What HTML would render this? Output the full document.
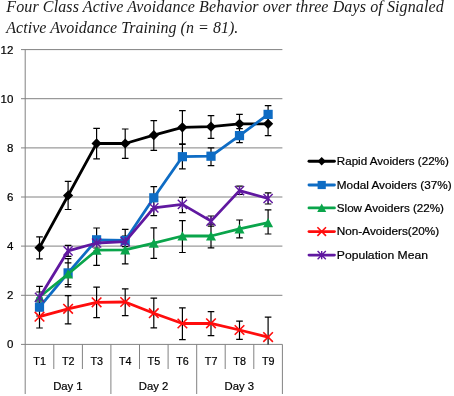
<!DOCTYPE html>
<html><head><meta charset="utf-8"><title>Four Class Active Avoidance Behavior</title>
<style>html,body{margin:0;padding:0;background:#fff}svg{display:block}text{font-family:"Liberation Sans",Arial,sans-serif;fill:#000;stroke:#000;stroke-width:.2px}.t{font-family:"Liberation Serif","Times New Roman",serif;font-style:italic;font-size:16px;fill:#1a1a1a;stroke:none}</style></head><body>
<svg width="454" height="396" viewBox="0 0 454 396">
<rect width="454" height="396" fill="#fff"/>
<text class="t" x="6.3" y="12.3" textLength="437.4" lengthAdjust="spacing">Four Class Active Avoidance Behavior over three Days of Signaled</text>
<text class="t" x="6.3" y="32.8" textLength="232" lengthAdjust="spacing">Active Avoidance Training (n = 81).</text>
<path d="M21 344.4H282.4M21 295.3H282.4M21 246.1H282.4M21 197.0H282.4M21 147.9H282.4M21 98.7H282.4M21 49.6H282.4" stroke="#828282" stroke-width="1" fill="none"/>
<path d="M25.2 49.6V394M53.8 344.4V369M82.4 344.4V369M110.9 344.4V394M139.5 344.4V369M168.1 344.4V369M196.7 344.4V394M225.2 344.4V369M253.8 344.4V369M282.4 344.4V394" stroke="#828282" stroke-width="1" fill="none"/>
<text x="13.3" y="348.3" font-size="11.5" text-anchor="end">0</text>
<text x="13.3" y="299.2" font-size="11.5" text-anchor="end">2</text>
<text x="13.3" y="250.0" font-size="11.5" text-anchor="end">4</text>
<text x="13.3" y="200.9" font-size="11.5" text-anchor="end">6</text>
<text x="13.3" y="151.8" font-size="11.5" text-anchor="end">8</text>
<text x="13.3" y="102.6" font-size="11.5" text-anchor="end">10</text>
<text x="13.3" y="53.5" font-size="11.5" text-anchor="end">12</text>
<text x="39.6" y="364.5" font-size="11.3" text-anchor="middle" textLength="12.6" lengthAdjust="spacingAndGlyphs">T1</text>
<text x="68.2" y="364.5" font-size="11.3" text-anchor="middle" textLength="12.6" lengthAdjust="spacingAndGlyphs">T2</text>
<text x="96.7" y="364.5" font-size="11.3" text-anchor="middle" textLength="12.6" lengthAdjust="spacingAndGlyphs">T3</text>
<text x="125.3" y="364.5" font-size="11.3" text-anchor="middle" textLength="12.6" lengthAdjust="spacingAndGlyphs">T4</text>
<text x="153.9" y="364.5" font-size="11.3" text-anchor="middle" textLength="12.6" lengthAdjust="spacingAndGlyphs">T5</text>
<text x="182.5" y="364.5" font-size="11.3" text-anchor="middle" textLength="12.6" lengthAdjust="spacingAndGlyphs">T6</text>
<text x="211.1" y="364.5" font-size="11.3" text-anchor="middle" textLength="12.6" lengthAdjust="spacingAndGlyphs">T7</text>
<text x="239.6" y="364.5" font-size="11.3" text-anchor="middle" textLength="12.6" lengthAdjust="spacingAndGlyphs">T8</text>
<text x="268.2" y="364.5" font-size="11.3" text-anchor="middle" textLength="12.6" lengthAdjust="spacingAndGlyphs">T9</text>
<text x="67.9" y="390" font-size="11.3" text-anchor="middle" textLength="29.5" lengthAdjust="spacingAndGlyphs">Day 1</text>
<text x="153.6" y="390" font-size="11.3" text-anchor="middle" textLength="29.5" lengthAdjust="spacingAndGlyphs">Day 2</text>
<text x="239.3" y="390" font-size="11.3" text-anchor="middle" textLength="29.5" lengthAdjust="spacingAndGlyphs">Day 3</text>
<defs><clipPath id="pa"><rect x="0" y="0" width="454" height="344.5"/></clipPath></defs>
<g clip-path="url(#pa)">
<path d="M39.5 236.8V258.8M36.2 236.8h6.6M36.2 258.8h6.6M68.1 181.4V209.5M64.8 181.4h6.6M64.8 209.5h6.6M96.6 128.3V158.8M93.3 128.3h6.6M93.3 158.8h6.6M125.2 129.0V158.3M121.9 129.0h6.6M121.9 158.3h6.6M153.8 120.7V150.4M150.5 120.7h6.6M150.5 150.4h6.6M182.4 110.7V143.8M179.1 110.7h6.6M179.1 143.8h6.6M211.0 115.6V138.4M207.7 115.6h6.6M207.7 138.4h6.6M239.5 114.4V133.0M236.2 114.4h6.6M236.2 133.0h6.6M268.1 112.0V135.6M264.8 112.0h6.6M264.8 135.6h6.6M39.5 298.0V316.0M36.2 298.0h6.6M36.2 316.0h6.6M68.1 258.6V286.9M64.8 258.6h6.6M64.8 286.9h6.6M96.6 228.0V251.0M93.3 228.0h6.6M93.3 251.0h6.6M125.2 229.4V251.5M121.9 229.4h6.6M121.9 251.5h6.6M153.8 186.7V208.8M150.5 186.7h6.6M150.5 208.8h6.6M182.4 144.5V168.9M179.1 144.5h6.6M179.1 168.9h6.6M211.0 147.8V165.6M207.7 147.8h6.6M207.7 165.6h6.6M239.5 128.6V142.7M236.2 128.6h6.6M236.2 142.7h6.6M268.1 105.6V123.2M264.8 105.6h6.6M264.8 123.2h6.6M39.5 286.4V307.6M36.2 286.4h6.6M36.2 307.6h6.6M68.1 262.9V284.5M64.8 262.9h6.6M64.8 284.5h6.6M96.6 236.7V265.3M93.3 236.7h6.6M93.3 265.3h6.6M125.2 236.0V263.9M121.9 236.0h6.6M121.9 263.9h6.6M153.8 227.8V258.3M150.5 227.8h6.6M150.5 258.3h6.6M182.4 220.7V252.5M179.1 220.7h6.6M179.1 252.5h6.6M211.0 224.2V247.8M207.7 224.2h6.6M207.7 247.8h6.6M239.5 220.0V237.8M236.2 220.0h6.6M236.2 237.8h6.6M268.1 209.8V234.0M264.8 209.8h6.6M264.8 234.0h6.6M39.5 305.4V328.0M36.2 305.4h6.6M36.2 328.0h6.6M68.1 295.6V323.9M64.8 295.6h6.6M64.8 323.9h6.6M96.6 287.1V317.7M93.3 287.1h6.6M93.3 317.7h6.6M125.2 288.9V315.6M121.9 288.9h6.6M121.9 315.6h6.6M153.8 298.2V327.8M150.5 298.2h6.6M150.5 327.8h6.6M182.4 307.8V339.6M179.1 307.8h6.6M179.1 339.6h6.6M211.0 311.6V335.6M207.7 311.6h6.6M207.7 335.6h6.6M239.5 321.1V339.3M236.2 321.1h6.6M236.2 339.3h6.6M268.1 317.1V357.0M264.8 317.1h6.6M264.8 357.0h6.6M39.5 292.0V302.0M36.2 292.0h6.6M36.2 302.0h6.6M68.1 245.4V256.3M64.8 245.4h6.6M64.8 256.3h6.6M96.6 238.0V248.0M93.3 238.0h6.6M93.3 248.0h6.6M125.2 236.6V246.6M121.9 236.6h6.6M121.9 246.6h6.6M153.8 200.8V215.6M150.5 200.8h6.6M150.5 215.6h6.6M182.4 197.3V212.7M179.1 197.3h6.6M179.1 212.7h6.6M211.0 216.0V226.2M207.7 216.0h6.6M207.7 226.2h6.6M239.5 186.2V194.5M236.2 186.2h6.6M236.2 194.5h6.6M268.1 192.8V204.0M264.8 192.8h6.6M264.8 204.0h6.6" stroke="#000" stroke-width="1.2" fill="none"/>
<polyline points="39.5,247.7 68.1,195.5 96.6,143.4 125.2,143.5 153.8,135.2 182.4,127.3 211.0,126.7 239.5,123.8 268.1,123.8" stroke="#000000" stroke-width="2.8" fill="none" stroke-linejoin="round" stroke-linecap="round"/>
<path d="M39.5 242.6L44.6 247.7L39.5 252.8L34.4 247.7Z" fill="#000000"/>
<path d="M68.1 190.4L73.2 195.5L68.1 200.6L63.0 195.5Z" fill="#000000"/>
<path d="M96.6 138.3L101.7 143.4L96.6 148.5L91.5 143.4Z" fill="#000000"/>
<path d="M125.2 138.4L130.3 143.5L125.2 148.6L120.1 143.5Z" fill="#000000"/>
<path d="M153.8 130.1L158.9 135.2L153.8 140.3L148.7 135.2Z" fill="#000000"/>
<path d="M182.4 122.2L187.5 127.3L182.4 132.4L177.3 127.3Z" fill="#000000"/>
<path d="M211.0 121.6L216.1 126.7L211.0 131.8L205.9 126.7Z" fill="#000000"/>
<path d="M239.5 118.7L244.6 123.8L239.5 128.9L234.4 123.8Z" fill="#000000"/>
<path d="M268.1 118.7L273.2 123.8L268.1 128.9L263.0 123.8Z" fill="#000000"/>
<polyline points="39.5,307.2 68.1,272.9 96.6,239.8 125.2,240.5 153.8,197.8 182.4,156.7 211.0,156.2 239.5,135.6 268.1,114.4" stroke="#0E6CC4" stroke-width="2.8" fill="none" stroke-linejoin="round" stroke-linecap="round"/>
<rect x="34.9" y="302.6" width="9.2" height="9.2" fill="#0E6CC4"/>
<rect x="63.5" y="268.3" width="9.2" height="9.2" fill="#0E6CC4"/>
<rect x="92.0" y="235.2" width="9.2" height="9.2" fill="#0E6CC4"/>
<rect x="120.6" y="235.9" width="9.2" height="9.2" fill="#0E6CC4"/>
<rect x="149.2" y="193.2" width="9.2" height="9.2" fill="#0E6CC4"/>
<rect x="177.8" y="152.1" width="9.2" height="9.2" fill="#0E6CC4"/>
<rect x="206.4" y="151.6" width="9.2" height="9.2" fill="#0E6CC4"/>
<rect x="234.9" y="131.0" width="9.2" height="9.2" fill="#0E6CC4"/>
<rect x="263.5" y="109.8" width="9.2" height="9.2" fill="#0E6CC4"/>
<polyline points="39.5,297.0 68.1,274.0 96.6,250.2 125.2,249.8 153.8,243.2 182.4,236.0 211.0,236.0 239.5,228.9 268.1,222.7" stroke="#0AA54B" stroke-width="2.8" fill="none" stroke-linejoin="round" stroke-linecap="round"/>
<path d="M39.5 292.2L44.5 301.6L34.5 301.6Z" fill="#0AA54B"/>
<path d="M68.1 269.2L73.1 278.6L63.1 278.6Z" fill="#0AA54B"/>
<path d="M96.6 245.4L101.6 254.8L91.6 254.8Z" fill="#0AA54B"/>
<path d="M125.2 245.0L130.2 254.4L120.2 254.4Z" fill="#0AA54B"/>
<path d="M153.8 238.4L158.8 247.8L148.8 247.8Z" fill="#0AA54B"/>
<path d="M182.4 231.2L187.4 240.6L177.4 240.6Z" fill="#0AA54B"/>
<path d="M211.0 231.2L216.0 240.6L206.0 240.6Z" fill="#0AA54B"/>
<path d="M239.5 224.1L244.5 233.5L234.5 233.5Z" fill="#0AA54B"/>
<path d="M268.1 217.9L273.1 227.3L263.1 227.3Z" fill="#0AA54B"/>
<polyline points="39.5,316.7 68.1,308.8 96.6,302.3 125.2,302.0 153.8,313.2 182.4,323.5 211.0,323.3 239.5,330.0 268.1,337.1" stroke="#FF0D0D" stroke-width="2.8" fill="none" stroke-linejoin="round" stroke-linecap="round"/>
<path d="M34.7 311.9L44.3 321.5M44.3 311.9L34.7 321.5" stroke="#FF0D0D" stroke-width="1.6" fill="none"/>
<path d="M63.3 304.0L72.9 313.6M72.9 304.0L63.3 313.6" stroke="#FF0D0D" stroke-width="1.6" fill="none"/>
<path d="M91.8 297.5L101.4 307.1M101.4 297.5L91.8 307.1" stroke="#FF0D0D" stroke-width="1.6" fill="none"/>
<path d="M120.4 297.2L130.0 306.8M130.0 297.2L120.4 306.8" stroke="#FF0D0D" stroke-width="1.6" fill="none"/>
<path d="M149.0 308.4L158.6 318.0M158.6 308.4L149.0 318.0" stroke="#FF0D0D" stroke-width="1.6" fill="none"/>
<path d="M177.6 318.7L187.2 328.3M187.2 318.7L177.6 328.3" stroke="#FF0D0D" stroke-width="1.6" fill="none"/>
<path d="M206.2 318.5L215.8 328.1M215.8 318.5L206.2 328.1" stroke="#FF0D0D" stroke-width="1.6" fill="none"/>
<path d="M234.7 325.2L244.3 334.8M244.3 325.2L234.7 334.8" stroke="#FF0D0D" stroke-width="1.6" fill="none"/>
<path d="M263.3 332.3L272.9 341.9M272.9 332.3L263.3 341.9" stroke="#FF0D0D" stroke-width="1.6" fill="none"/>
<polyline points="39.5,297.4 68.1,250.8 96.6,243.0 125.2,241.6 153.8,207.8 182.4,204.4 211.0,221.1 239.5,190.6 268.1,198.5" stroke="#6018A0" stroke-width="2.8" fill="none" stroke-linejoin="round" stroke-linecap="round"/>
<path d="M34.9 292.8L44.1 302.0M44.1 292.8L34.9 302.0M39.5 292.8L39.5 302.0" stroke="#6018A0" stroke-width="1.4" fill="none"/>
<path d="M63.5 246.2L72.7 255.4M72.7 246.2L63.5 255.4M68.1 246.2L68.1 255.4" stroke="#6018A0" stroke-width="1.4" fill="none"/>
<path d="M92.0 238.4L101.2 247.6M101.2 238.4L92.0 247.6M96.6 238.4L96.6 247.6" stroke="#6018A0" stroke-width="1.4" fill="none"/>
<path d="M120.6 237.0L129.8 246.2M129.8 237.0L120.6 246.2M125.2 237.0L125.2 246.2" stroke="#6018A0" stroke-width="1.4" fill="none"/>
<path d="M149.2 203.2L158.4 212.4M158.4 203.2L149.2 212.4M153.8 203.2L153.8 212.4" stroke="#6018A0" stroke-width="1.4" fill="none"/>
<path d="M177.8 199.8L187.0 209.0M187.0 199.8L177.8 209.0M182.4 199.8L182.4 209.0" stroke="#6018A0" stroke-width="1.4" fill="none"/>
<path d="M206.4 216.5L215.6 225.7M215.6 216.5L206.4 225.7M211.0 216.5L211.0 225.7" stroke="#6018A0" stroke-width="1.4" fill="none"/>
<path d="M234.9 186.0L244.1 195.2M244.1 186.0L234.9 195.2M239.5 186.0L239.5 195.2" stroke="#6018A0" stroke-width="1.4" fill="none"/>
<path d="M263.5 193.9L272.7 203.1M272.7 193.9L263.5 203.1M268.1 193.9L268.1 203.1" stroke="#6018A0" stroke-width="1.4" fill="none"/>
</g>
<path d="M309 161.2H334.4" stroke="#000000" stroke-width="2.9" stroke-linecap="round" fill="none"/>
<path d="M321.7 157.0L325.9 161.2L321.7 165.4L317.5 161.2Z" fill="#000000"/>
<text x="336.8" y="164.8" font-size="10.8" textLength="112.0" lengthAdjust="spacingAndGlyphs">Rapid Avoiders (22%)</text>
<path d="M309 185H334.4" stroke="#0E6CC4" stroke-width="2.9" stroke-linecap="round" fill="none"/>
<rect x="317.6" y="180.9" width="8.2" height="8.2" fill="#0E6CC4"/>
<text x="336.8" y="188.6" font-size="10.8" textLength="114.8" lengthAdjust="spacingAndGlyphs">Modal Avoiders (37%)</text>
<path d="M309 207.9H334.4" stroke="#0AA54B" stroke-width="2.9" stroke-linecap="round" fill="none"/>
<path d="M321.7 203.6L326.2 212.0L317.2 212.0Z" fill="#0AA54B"/>
<text x="336.8" y="211.5" font-size="10.8" textLength="107.2" lengthAdjust="spacingAndGlyphs">Slow Avoiders (22%)</text>
<path d="M309 231.6H334.4" stroke="#FF0D0D" stroke-width="2.9" stroke-linecap="round" fill="none"/>
<path d="M317.4 227.3L326.0 235.9M326.0 227.3L317.4 235.9" stroke="#FF0D0D" stroke-width="1.6" fill="none"/>
<text x="336.8" y="235.2" font-size="10.8" textLength="102.4" lengthAdjust="spacingAndGlyphs">Non-Avoiders(20%)</text>
<path d="M309 255.1H334.4" stroke="#6018A0" stroke-width="2.9" stroke-linecap="round" fill="none"/>
<path d="M317.6 251.0L325.8 259.2M325.8 251.0L317.6 259.2M321.7 251.0L321.7 259.2" stroke="#6018A0" stroke-width="1.4" fill="none"/>
<text x="336.8" y="258.7" font-size="10.8" textLength="91.2" lengthAdjust="spacingAndGlyphs">Population Mean</text>
</svg></body></html>
